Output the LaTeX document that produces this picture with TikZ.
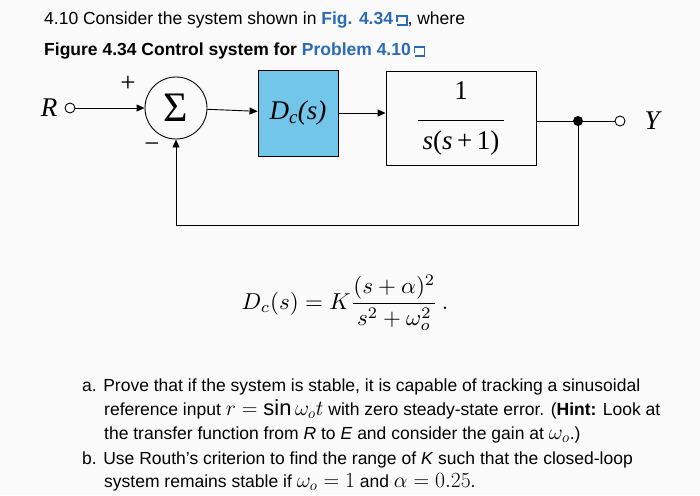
\documentclass[tikz,border=0pt]{standalone}
\usepackage{amsmath}
\usepackage{graphicx}
\usepackage{fontspec}
\setmainfont{Liberation Sans}
\newfontfamily\serif{Liberation Serif}
\usetikzlibrary{arrows.meta}
\definecolor{lnk}{HTML}{2A6AB8}
\definecolor{blk}{HTML}{72C6EA}
\newcommand{\lic}{\,\tikz[baseline=0pt]{\draw[lnk,line width=1.3pt] (0,0) rectangle (10pt,9pt); \fill[white] (-1pt,-1pt) rectangle (3pt,3pt); \draw[lnk,line width=1.3pt](0,0)--(3pt,0);}}
\begin{document}
\begin{tikzpicture}[x=1pt,y=-1pt,
  txt/.style={anchor=base west,inner sep=0,font=\fontsize{17.5}{20}\selectfont},
  dg/.style={font=\serif\fontsize{27}{30}\selectfont},
  sig/.style={-{Triangle[length=8pt,width=7pt]},line width=0.9pt},
  ln/.style={line width=0.9pt},
  oc/.style={circle,draw,line width=0.9pt,inner sep=0,minimum size=10pt,fill=white}]
\fill[white!96!gray] (0,0) rectangle (700,495);
\useasboundingbox (0,0) rectangle (700,495);
\node[txt] (t1) at (44,25) {4.10 Consider the system shown in \textcolor{lnk}{\textbf{Fig. 4.34}}\lic, where};
\node[txt] (t2) at (44,56) {\textbf{Figure 4.34 Control system for \textcolor{lnk}{Problem 4.10}}\lic};
% diagram
\node[dg,inner sep=0] (R) at (49,108) {\itshape R};
\node[oc] (ri) at (70,108) {};
\node[circle,draw,line width=0.9pt,minimum size=62pt,inner sep=0,font=\serif\fontsize{42}{44}\selectfont] (S) at (176,108) {Σ};
\node[dg] (plus) at (128,84) {+};
\node[dg] (minus) at (152,148) {\textminus};
\node[dg,draw,line width=0.9pt,fill=blk,minimum width=80pt,minimum height=86pt,inner sep=0] (D) at (298,113) {\itshape D\textsubscript{c}(s)};
\node[dg,draw,line width=0.9pt,minimum width=150pt,minimum height=94pt,inner sep=0,align=center] (G) at (461,118) {1\\[-8pt]\rule{86pt}{0.8pt}\\[-2pt]\itshape s\upshape(\itshape s\upshape\,+\,1)};
\coordinate (dot) at (578,121);
\fill (dot) circle (5pt);
\node[oc] (yo) at (620,121) {};
\node[dg,inner sep=0] (Y) at (652,121) {\itshape Y};
\draw[sig] (ri) -- (S);
\draw[sig] (S) -- (D);
\draw[sig] (D) -- (G.west|-D);
\draw[ln] (G.east|-dot) -- (yo);
\coordinate (b1) at (578,225);
\coordinate (b2) at (176,225);
\draw[sig] (dot) -- (b1) -- (b2) -- (S.south);
% formula
\node[inner sep=0] (eq) at (345,303) {\scalebox{2.3}{$D_c(s)=K\dfrac{(s+\alpha)^2}{s^2+\omega_o^2}\,.$}};
\node[txt] (a1) at (82,391) {a. Prove that if the system is stable, it is capable of tracking a sinusoidal};
\node[txt] (a2) at (104,415) {reference input \scalebox{1.25}{$r=\sin\omega_o t$} with zero steady-state error. (\textbf{Hint:} Look at};
\node[txt] (a3) at (104,439) {the transfer function from \textit{R} to \textit{E} and consider the gain at \scalebox{1.25}{$\omega_o$}.)};
\node[txt] (b1t) at (82,464) {b. Use Routh's criterion to find the range of \textit{K} such that the closed-loop};
\node[txt] (b2t) at (104,487) {system remains stable if \scalebox{1.25}{$\omega_o=1$} and \scalebox{1.25}{$\alpha=0.25$}.};
\end{tikzpicture}
\end{document}
